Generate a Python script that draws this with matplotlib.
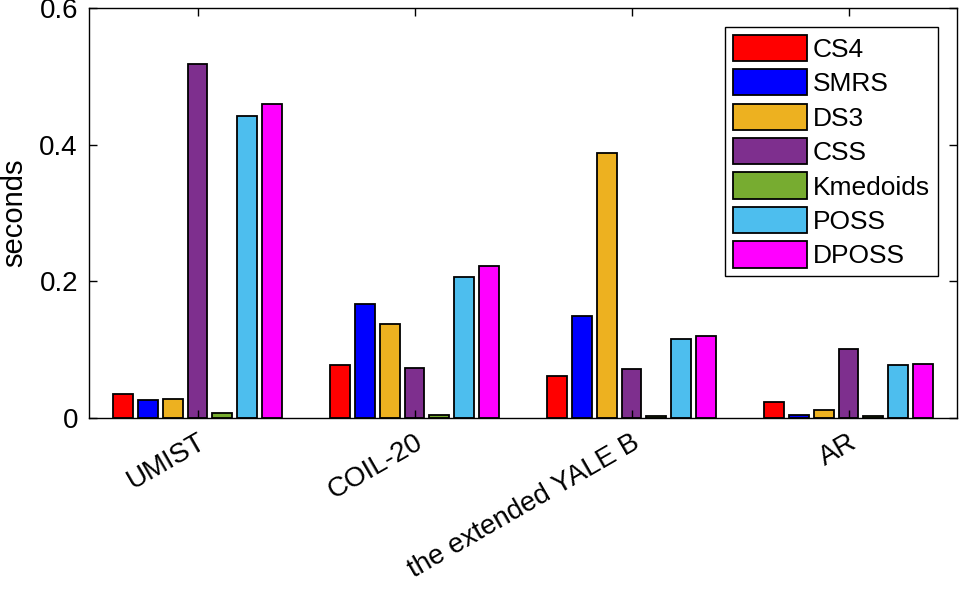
import numpy as np
import matplotlib.pyplot as plt

# datasets / methods
datasets = ['UMIST', 'COIL-20', 'the extended YALE B', 'AR']
methods = ['CS4', 'SMRS', 'DS3', 'CSS', 'Kmedoids', 'POSS', 'DPOSS']

# running time in seconds, one list per method (UMIST, COIL-20, YALE B, AR)
cs4 = [0.035, 0.078, 0.062, 0.024]
smrs = [0.026, 0.167, 0.149, 0.004]
ds3 = [0.028, 0.137, 0.388, 0.011]
css = [0.518, 0.073, 0.072, 0.101]
kmedoids = [0.008, 0.004, 0.003, 0.003]
poss = [0.442, 0.206, 0.116, 0.077]
dposs = [0.460, 0.222, 0.120, 0.079]

colores = ['#ff0000', '#0000ff', '#edb120', '#7e2f8e',
           '#77ac30', '#4dbeee', '#ff00ff']

plt.rcParams['font.family'] = ['Liberation Sans', 'DejaVu Sans']

fig = plt.figure(figsize=(9.59, 5.94), dpi=100)
ax = fig.add_axes([0.0928, 0.2963, 0.9052, 0.6902])

series = [cs4, smrs, ds3, css, kmedoids, poss, dposs]
x = np.arange(1, len(datasets) + 1)
slot = 0.8 / len(series)
for i, (vals, nombre, c) in enumerate(zip(series, methods, colores)):
    off = (i - (len(series) - 1) / 2) * slot
    ax.bar(x + off, vals, width=slot * 0.8, color=c, edgecolor='black',
           linewidth=1.3, label=nombre)

ax.set_xlim(0.5, 4.5)
ax.set_ylim(0, 0.6)
ax.set_yticks([0, 0.2, 0.4, 0.6])
ax.set_yticklabels(['0', '0.2', '0.4', '0.6'])
ax.set_xticks(x)
ax.set_xticklabels(datasets, rotation=30, ha='right', rotation_mode='anchor',
                   fontsize=21)
ax.tick_params(direction='in', top=True, right=True, length=6, width=1,
               labelsize=20, pad=8)
ax.set_ylabel('seconds', fontsize=21, labelpad=8)
for s in ax.spines.values():
    s.set_linewidth(1)

leg = ax.legend(loc='upper right', bbox_to_anchor=(0.978, 0.954),
                borderaxespad=0, fontsize=19, handlelength=2.8,
                handleheight=1.15, labelspacing=0.28, handletextpad=0.23,
                borderpad=0.3, fancybox=False, framealpha=1,
                edgecolor='black')
leg.get_frame().set_linewidth(1)

plt.savefig('out.png', dpi=100)
